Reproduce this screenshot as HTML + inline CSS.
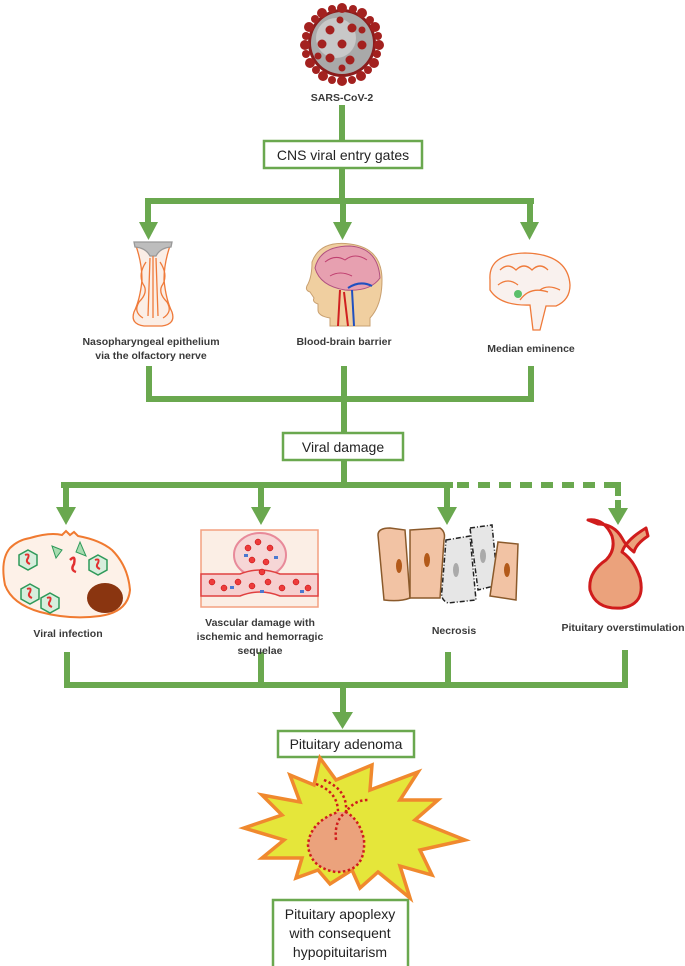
<!DOCTYPE html>
<html><head><meta charset="utf-8"><style>
html,body{margin:0;padding:0;background:#fff;}
svg{display:block;}
.lb{font-family:"Liberation Sans",sans-serif;font-weight:bold;font-size:10.5px;fill:#3a3a3a;text-anchor:middle;}
.bx{font-family:"Liberation Sans",sans-serif;font-size:14px;fill:#222;text-anchor:middle;}
</style></head><body>
<svg width="685" height="966" viewBox="0 0 685 966" xmlns="http://www.w3.org/2000/svg">
<defs>
<g id="hex"><polygon points="0,-10 9,-5 9,5 0,10 -9,5 -9,-5" fill="#d7eedd" stroke="#2f9a5a" stroke-width="1.5"/><path d="M-3,-5 q5,-2 3,3 q-3,4 2,6" stroke="#e23030" stroke-width="2" fill="none"/></g>
</defs>
<!-- Virus -->
<g>
<circle cx="342" cy="43" r="34" fill="#8c1d1d"/>
<circle cx="342" cy="43" r="31" fill="#a9a9a9"/>
<circle cx="336" cy="38" r="20" fill="#c8c8c8"/>
<g fill="#a3211f">
<circle cx="342" cy="8" r="5"/><circle cx="353" cy="9" r="4"/><circle cx="362" cy="13" r="5"/><circle cx="370" cy="20" r="4"/><circle cx="375" cy="27" r="5"/><circle cx="378" cy="36" r="4"/><circle cx="379" cy="45" r="5"/><circle cx="377" cy="54" r="4"/><circle cx="374" cy="63" r="5"/><circle cx="368" cy="70" r="4"/><circle cx="361" cy="76" r="5"/><circle cx="352" cy="80" r="4"/><circle cx="342" cy="81" r="5"/><circle cx="332" cy="80" r="4"/><circle cx="323" cy="76" r="5"/><circle cx="316" cy="70" r="4"/><circle cx="310" cy="63" r="5"/><circle cx="306" cy="54" r="4"/><circle cx="305" cy="45" r="5"/><circle cx="306" cy="36" r="4"/><circle cx="309" cy="27" r="5"/><circle cx="315" cy="19" r="4"/><circle cx="322" cy="13" r="5"/><circle cx="332" cy="9" r="4"/>
<circle cx="330" cy="30" r="4.5"/><circle cx="352" cy="28" r="4.5"/><circle cx="362" cy="45" r="4.5"/><circle cx="350" cy="60" r="4.5"/><circle cx="330" cy="58" r="4.5"/><circle cx="322" cy="44" r="4.5"/><circle cx="342" cy="44" r="4.5"/><circle cx="340" cy="20" r="3.5"/><circle cx="362" cy="30" r="3.5"/><circle cx="318" cy="56" r="3.5"/><circle cx="342" cy="68" r="3.5"/>
</g>
</g>
<text class="lb" x="342" y="101">SARS-CoV-2</text>

<g fill="#6aa84f" stroke="none">
<rect x="339" y="105" width="6" height="36"/>
<rect x="339" y="168" width="6" height="34"/>
<rect x="145" y="198" width="389" height="6"/>
<rect x="145" y="198" width="6" height="26"/><polygon points="139,222 158,222 148.5,240"/>
<rect x="340" y="198" width="6" height="26"/><polygon points="333,222 352,222 342.5,240"/>
<rect x="527" y="198" width="6" height="26"/><polygon points="520,222 539,222 529.5,240"/>
<rect x="146" y="366" width="6" height="36"/>
<rect x="341" y="366" width="6" height="67"/>
<rect x="528" y="366" width="6" height="36"/>
<rect x="146" y="396" width="388" height="6"/>
<rect x="341" y="460" width="6" height="24"/>
<rect x="61" y="482" width="392" height="6"/>
<rect x="63" y="482" width="6" height="28"/><polygon points="56,507 76,507 66,525"/>
<rect x="258" y="482" width="6" height="28"/><polygon points="251,507 271,507 261,525"/>
<rect x="444" y="482" width="6" height="28"/><polygon points="437,507 457,507 447,525"/>
<rect x="457" y="482" width="12" height="6"/><rect x="478" y="482" width="12" height="6"/><rect x="499" y="482" width="12" height="6"/><rect x="520" y="482" width="12" height="6"/><rect x="541" y="482" width="12" height="6"/><rect x="562" y="482" width="12" height="6"/><rect x="583" y="482" width="12" height="6"/><rect x="604" y="482" width="17" height="6"/>
<rect x="615" y="488" width="6" height="8"/><rect x="615" y="500" width="6" height="8"/>
<polygon points="608,508 628,508 618,525"/>
<rect x="64" y="652" width="6" height="36"/>
<rect x="258" y="652" width="6" height="36"/>
<rect x="445" y="652" width="6" height="36"/>
<rect x="622" y="650" width="6" height="38"/>
<rect x="64" y="682" width="564" height="6"/>
<rect x="340" y="688" width="6" height="26"/><polygon points="332,712 353,712 342.5,729"/>
</g>

<rect x="264" y="141" width="158" height="27" fill="#fff" stroke="#6aa84f" stroke-width="2.5"/>
<text class="bx" x="343" y="160">CNS viral entry gates</text>
<rect x="283" y="433" width="120" height="27" fill="#fff" stroke="#6aa84f" stroke-width="2.5"/>
<text class="bx" x="343" y="452">Viral damage</text>
<rect x="278" y="731" width="136" height="26" fill="#fff" stroke="#6aa84f" stroke-width="2.5"/>
<text class="bx" x="346" y="749">Pituitary adenoma</text>
<rect x="273" y="900" width="135" height="70" fill="#fff" stroke="#6aa84f" stroke-width="2.5"/>
<text class="bx" x="340" y="919">Pituitary apoplexy</text>
<text class="bx" x="340" y="938">with consequent</text>
<text class="bx" x="340" y="957">hypopituitarism</text>

<!-- nose -->
<g stroke="#ef7a3a" stroke-width="1.3" fill="none">
<path d="M135,243 L171,243 Q164,262 164,280 Q166,300 172,312 Q176,324 162,326 L144,326 Q130,324 134,312 Q140,300 142,280 Q142,262 135,243 Z" fill="#fbeee6"/>
<path d="M134,242 L172,242 L171,247 Q160,248 156,256 L150,256 Q146,248 135,247 Z" fill="#bdbdbd" stroke="#999"/>
<path d="M153,256 L153,318 M150,258 L148,316 M156,258 L158,316"/>
<path d="M146,262 q-8,12 -3,22 q6,8 -4,18 q-6,10 4,16 M160,262 q8,12 3,22 q-6,8 4,18 q6,10 -4,16"/>
</g>
<!-- head -->
<g>
<path d="M312,262 Q320,240 350,244 Q382,248 382,280 Q382,305 370,318 L370,326 L330,326 L330,318 Q318,316 318,310 L318,304 Q312,302 314,298 L310,292 Q304,290 308,284 Q312,276 312,262 Z" fill="#f0cfa0" stroke="#c9a070" stroke-width="1"/>
<path d="M315,268 Q320,246 350,246 Q378,248 380,278 Q370,292 345,290 Q320,286 315,268 Z" fill="#e7a0b0" stroke="#b05080" stroke-width="1"/>
<path d="M325,262 q10,-8 20,-2 q10,-8 22,0 M330,276 q10,-6 22,0" stroke="#c04070" stroke-width="1" fill="none"/>
<path d="M340,290 L338,326 M344,292 L348,326" stroke="#d02020" stroke-width="2"/>
<path d="M352,290 L354,326 M348,288 Q360,280 372,286" stroke="#2050c0" stroke-width="2" fill="none"/>
</g>
<!-- brain -->
<g stroke="#ef7a3a" stroke-width="1.3">
<path d="M490,280 Q488,254 525,253 Q568,254 570,285 Q570,300 556,306 L546,306 L540,330 L533,330 L530,305 Q500,306 490,290 Z" fill="#f9f1ee"/>
<path d="M500,270 q8,-8 16,0 q8,-8 16,0 q8,-8 16,0 M498,285 q10,-8 20,0 M540,290 q8,-6 20,0 M520,300 q10,-14 28,-8" fill="none"/>
<circle cx="518" cy="294" r="4" fill="#5cbf6a" stroke="none"/>
</g>
<text class="lb" x="151" y="345">Nasopharyngeal epithelium</text>
<text class="lb" x="151" y="359">via the olfactory nerve</text>
<text class="lb" x="344" y="345">Blood-brain barrier</text>
<text class="lb" x="531" y="352">Median eminence</text>

<!-- viral infection cell -->
<path d="M30,538 Q50,532 62,535 L66,531 L70,535 L74,532 L78,536 Q100,540 112,550 Q128,566 130,590 Q128,612 100,616 Q70,620 40,612 Q12,604 5,585 Q0,560 10,548 Q18,540 30,538 Z" fill="#fdf1e8" stroke="#f07a30" stroke-width="2"/>
<ellipse cx="105" cy="598" rx="18" ry="15" fill="#8a3510"/>
<use href="#hex" x="28" y="560"/><use href="#hex" x="98" y="565"/><use href="#hex" x="30" y="594"/><use href="#hex" x="50" y="603"/>
<polygon points="52,546 62,550 56,558" fill="#a8dcb0" stroke="#2f9a5a"/>
<polygon points="76,552 80,542 86,556" fill="#a8dcb0" stroke="#2f9a5a"/>
<path d="M70,560 q6,-6 4,4 q-4,6 2,8" stroke="#e23030" stroke-width="2.5" fill="none"/>
<text class="lb" x="68" y="637">Viral infection</text>

<!-- vascular -->
<rect x="201" y="530" width="117" height="77" fill="#fbeee5" stroke="#f3a080" stroke-width="1.5"/>
<ellipse cx="260" cy="555" rx="26" ry="22" fill="#f6d6d6" stroke="#e88a9a" stroke-width="2"/>
<path d="M201,574 L240,574 Q260,566 280,574 L318,574 L318,596 L280,596 Q260,588 240,596 L201,596 Z" fill="#f6cfcf" stroke="#e04040" stroke-width="1.5"/>
<g fill="#ee3b3b" stroke="#b00" stroke-width="0.5">
<circle cx="248" cy="548" r="3"/><circle cx="258" cy="542" r="3"/><circle cx="270" cy="548" r="3"/><circle cx="252" cy="560" r="3"/><circle cx="266" cy="562" r="3"/><circle cx="262" cy="572" r="3"/>
<circle cx="212" cy="582" r="3"/><circle cx="224" cy="588" r="3"/><circle cx="238" cy="582" r="3"/><circle cx="252" cy="586" r="3"/><circle cx="268" cy="582" r="3"/><circle cx="282" cy="588" r="3"/><circle cx="296" cy="582" r="3"/><circle cx="308" cy="588" r="3"/>
</g>
<g fill="#4a78d0"><rect x="244" y="554" width="4" height="3"/><rect x="274" y="556" width="4" height="3"/><rect x="230" y="586" width="4" height="3"/><rect x="260" y="590" width="4" height="3"/><rect x="300" y="590" width="4" height="3"/></g>
<text class="lb" x="260" y="626">Vascular damage with</text>
<text class="lb" x="260" y="640">ischemic and hemorragic</text>
<text class="lb" x="260" y="654">sequelae</text>

<!-- necrosis -->
<path d="M378,535 Q378,528 390,528 L405,530 L410,598 Q400,602 384,600 Z" fill="#f2c3a4" stroke="#8b5a2b" stroke-width="1.5"/>
<path d="M410,530 L440,528 Q446,532 444,540 L440,598 L410,598 Z" fill="#f2c3a4" stroke="#8b5a2b" stroke-width="1.5"/>
<path d="M446,540 L470,536 L476,600 L448,603 Q440,600 442,590 Z" fill="#e6e6e6" stroke="#222" stroke-width="1.5" stroke-dasharray="5,2,1,2"/>
<path d="M470,528 L492,525 L498,585 L478,590 Z" fill="#e6e6e6" stroke="#222" stroke-width="1.5" stroke-dasharray="5,2,1,2"/>
<path d="M498,542 L518,544 L516,600 L490,596 Z" fill="#f2c3a4" stroke="#8b5a2b" stroke-width="1.5"/>
<ellipse cx="399" cy="566" rx="3" ry="7" fill="#b35a1a"/><ellipse cx="427" cy="560" rx="3" ry="7" fill="#b35a1a"/><ellipse cx="456" cy="570" rx="3" ry="7" fill="#aaa"/><ellipse cx="483" cy="556" rx="3" ry="7" fill="#aaa"/><ellipse cx="507" cy="570" rx="3" ry="7" fill="#b35a1a"/>
<text class="lb" x="454" y="634">Necrosis</text>

<!-- pituitary -->
<path d="M588,520 Q604,518 612,536 Q616,550 606,560 Q588,572 590,590 Q596,610 622,608 Q646,604 640,578 Q634,560 622,552 Q626,540 646,528 L648,536 Q636,544 634,552 Q626,546 622,538 Q614,524 598,524 Z" fill="#eba27c" stroke="#d01c1c" stroke-width="3" stroke-linejoin="round"/>
<text class="lb" x="623" y="631">Pituitary overstimulation</text>

<!-- explosion -->
<polygon points="320,758 336,780 372,765 370,790 418,772 400,800 438,800 415,820 465,840 420,850 432,875 400,866 410,898 378,872 360,888 352,870 330,884 318,870 296,878 302,858 262,858 284,840 244,828 282,815 262,795 300,802 290,775 314,785" fill="#e5e63a" stroke="#f0892e" stroke-width="3.5"/>
<path d="M338,812 Q310,822 308,845 Q310,868 336,872 Q366,872 364,840 Q360,820 346,812 Z" fill="#eba27c"/>
<path d="M316,784 Q338,792 338,812 Q310,822 308,845 Q310,868 336,872 Q366,872 364,840 Q360,820 346,812 Q354,800 368,800 M324,780 Q348,790 346,812 M336,840 Q334,820 346,812" fill="none" stroke="#d01c1c" stroke-width="2.5" stroke-dasharray="2.5,2.5"/>
</svg>
</body></html>
